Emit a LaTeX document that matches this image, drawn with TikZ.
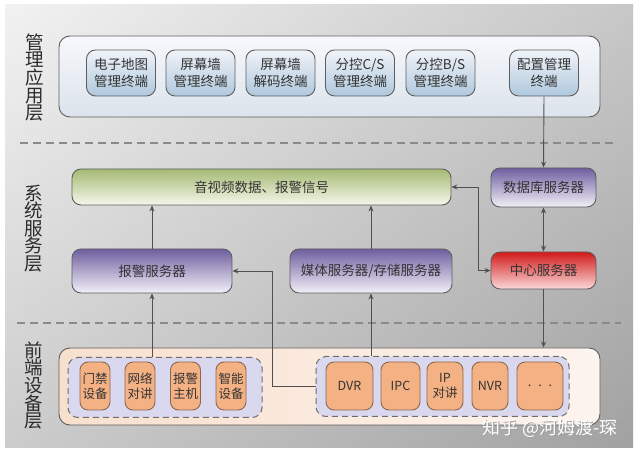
\documentclass[tikz,border=0pt]{standalone}
\usepackage{fontspec}
\setmainfont{Noto Sans CJK SC}
\usetikzlibrary{arrows.meta,calc}
\definecolor{txt}{HTML}{333333}
\definecolor{bgl}{HTML}{F0F0F0}
\definecolor{bgr}{HTML}{BEBEBE}
\definecolor{bordc}{HTML}{5E5E5E}
\definecolor{mgtop}{HTML}{F6F8FB}
\definecolor{mgbot}{HTML}{DCE3EC}
\definecolor{termtop}{HTML}{F0F4F9}
\definecolor{termbot}{HTML}{AFC7DD}
\definecolor{grtop}{HTML}{A5BA74}
\definecolor{grbot}{HTML}{F4F7EA}
\definecolor{purtop}{HTML}{6F5FA0}
\definecolor{purbot}{HTML}{F2F0F8}
\definecolor{redtop}{HTML}{D21A1A}
\definecolor{redbot}{HTML}{FAD8D8}
\definecolor{pchl}{HTML}{F8E0CE}
\definecolor{pchr}{HTML}{FDF4EE}
\definecolor{lav}{HTML}{D9D8EE}
\definecolor{orangef}{HTML}{F4B183}
\definecolor{orangeb}{HTML}{8A6850}
\definecolor{dashc}{HTML}{6E6E6E}
\definecolor{linec}{HTML}{505050}
\definecolor{sepc}{HTML}{8A8A8A}
\tikzset{
 box/.style={draw=bordc, line width=0.9pt, rounded corners=9pt, inner sep=0pt, align=center, text=txt, font=\fontsize{13.5}{17}\selectfont},
 term/.style={box, top color=termtop, bottom color=termbot, minimum width=69pt, minimum height=46pt},
 serv/.style={box, top color=purtop, bottom color=purbot, minimum height=44pt},
 itembox/.style={box, rounded corners=8pt, fill=orangef, draw=orangeb, minimum height=48pt, font=\fontsize{12.5}{15}\selectfont},
 grp/.style={draw=dashc, line width=1pt, dash pattern=on 6pt off 4pt, rounded corners=10pt, fill=lav, minimum height=60pt, inner sep=0pt},
 conn/.style={draw=linec, line width=0.9pt},
 arr/.style={conn, -{Stealth[length=6pt,width=5pt]}},
 barr/.style={conn, {Stealth[length=6pt,width=5pt]}-{Stealth[length=6pt,width=5pt]}},
 sep/.style={draw=sepc, line width=1.3pt, dash pattern=on 8pt off 5pt},
 layer/.style={text=txt!85!black, font=\fontsize{18.5}{17.6}\selectfont, text width=22pt, align=center, inner sep=0pt},
}
\begin{document}
\lineskiplimit=-20pt\relax
\begin{tikzpicture}[x=1pt,y=-1pt]
\useasboundingbox (0,0) rectangle (638,454);
\fill[white] (0,0) rectangle (638,454);
\shade[left color=bgl, right color=bgr] (5,5) rectangle (633,448);
\shade[top color=white, bottom color=black, fill opacity=0.15] (5,5) rectangle (633,448);

% separators
\draw[sep] (20,143) -- (615,143);
\draw[sep] (17,323) -- (621,323);

% layer labels
\node[layer] (L1) at (35,77.5) {管\\理\\应\\用\\层};
\node[layer] (L2) at (34,228.5) {系\\统\\服\\务\\层};
\node[layer] (L3) at (34,385.5) {前\\端\\设\\备\\层};

% management layer
\node[box, top color=mgtop, bottom color=mgbot, minimum width=541pt, minimum height=81pt, rounded corners=11pt] (mg) at (329.5,76.5) {};
\node[term] (t1) at (121,73) {电子地图\\管理终端};
\node[term] (t2) at (200.5,73) {屏幕墙\\管理终端};
\node[term] (t3) at (280.5,73) {屏幕墙\\解码终端};
\node[term] (t4) at (360,73) {分控C/S\\管理终端};
\node[term] (t5) at (440.5,73) {分控B/S\\管理终端};
\node[term] (t6) at (544,73) {配置管理\\终端};

% system layer
\node[box, top color=grtop, bottom color=grbot, minimum width=379pt, minimum height=36pt] (green) at (261.5,187) {音视频数据、报警信号};
\node[serv, minimum width=105pt, minimum height=39pt] (db) at (543.5,187.5) {数据库服务器};
\node[serv, minimum width=160pt] (alarm) at (152,271) {报警服务器};
\node[serv, minimum width=162pt] (media) at (371,271) {媒体服务器/存储服务器};
\node[box, top color=redtop, bottom color=redbot, minimum width=105pt, minimum height=37pt] (center) at (543.5,270.5) {中心服务器};

% front layer
\node[box, left color=pchl, right color=pchr, minimum width=541pt, minimum height=77pt, rounded corners=11pt] (front) at (329.5,386.5) {};
\node[grp, minimum width=194pt] (lgrp) at (165,387.5) {};
\node[grp, minimum width=253pt] (rgrp) at (442.5,386.5) {};
\node[itembox, minimum width=30pt] (i1) at (95,386) {门禁\\设备};
\node[itembox, minimum width=30pt] (i2) at (140,386) {网络\\对讲};
\node[itembox, minimum width=30pt] (i3) at (185.5,386) {报警\\主机};
\node[itembox, minimum width=30pt] (i4) at (231,386) {智能\\设备};
\node[itembox, minimum width=47pt] (r1) at (349.5,386) {DVR};
\node[itembox, minimum width=39pt] (r2) at (400.5,386) {IPC};
\node[itembox, minimum width=36pt] (r3) at (445,386) {IP\\对讲};
\node[itembox, minimum width=36pt] (r4) at (490,386) {NVR};
\node[itembox, minimum width=46pt] (r5) at (540,386) {.\hspace{7pt}.\hspace{7pt}.};

% connectors
\draw[arr] (t6.south) -- (db.north);
\draw[barr] (db.south) -- (center.north);
\draw[arr] (center.south) -- (center.south |- front.north);
\draw[barr] (center.west) -- (478,270.5) |- (green.east);
\draw[arr] (alarm.north) -- (alarm.north |- green.south);
\draw[arr] (media.north) -- (media.north |- green.south);
\draw[arr] (alarm.south |- lgrp.north) -- (alarm.south);
\draw[arr] (media.south |- rgrp.north) -- (media.south);
\draw[arr] (rgrp.west) -- (272,386.5) |- (alarm.east);

% watermark
\node[text=gray!75, font=\fontsize{18}{18}\selectfont] (wm0) at (551.2,429.2) {知乎 @河姆渡-琛};
\node[text=white, font=\fontsize{18}{18}\selectfont] (wm) at (550,428) {知乎 @河姆渡-琛};
\end{tikzpicture}
\end{document}
